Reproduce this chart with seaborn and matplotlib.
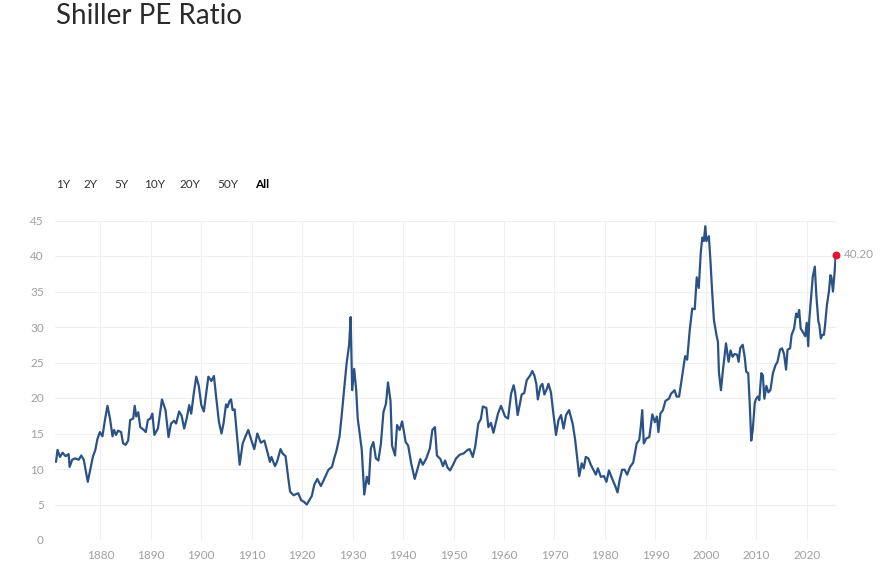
import matplotlib
matplotlib.use("Agg")
import matplotlib.pyplot as plt
import seaborn as sns
import pandas as pd

# Shiller CAPE (decimal year, ratio)
years = [
    1871.2, 1871.5, 1872.0, 1872.5, 1873.1, 1873.7, 1873.9, 1874.4, 1875.0, 1875.7,
    1876.2, 1876.7, 1877.5, 1878.1, 1878.5, 1879.0, 1879.4, 1879.9, 1880.4, 1880.9,
    1881.4, 1881.9, 1882.4, 1882.7, 1883.1, 1883.5, 1884.1, 1884.5, 1885.0, 1885.5,
    1885.9, 1886.5, 1886.8, 1887.1, 1887.5, 1887.9, 1888.6, 1889.0, 1889.4, 1889.9,
    1890.3, 1890.7, 1891.4, 1892.2, 1892.9, 1893.5, 1894.0, 1894.6, 1895.0, 1895.6,
    1896.1, 1896.6, 1897.1, 1897.6, 1898.0, 1898.5, 1899.0, 1899.5, 1900.0, 1900.5,
    1901.0, 1901.4, 1902.0, 1902.5, 1902.9, 1903.5, 1904.0, 1904.4, 1904.9, 1905.2,
    1905.6, 1905.9, 1906.2, 1906.6, 1907.1, 1907.6, 1908.2, 1908.7, 1909.3, 1909.9,
    1910.5, 1911.1, 1911.8, 1912.5, 1913.1, 1913.6, 1913.9, 1914.6, 1915.0, 1915.7,
    1916.1, 1916.7, 1917.2, 1917.6, 1918.3, 1919.2, 1919.8, 1920.3, 1920.9, 1921.4,
    1921.9, 1922.4, 1923.0, 1923.7, 1924.3, 1925.2, 1925.9, 1926.3, 1926.8, 1927.4,
    1927.8, 1928.4, 1928.8, 1929.3, 1929.6, 1929.9, 1930.3, 1930.7, 1931.0, 1931.3,
    1931.8, 1932.3, 1932.8, 1933.2, 1933.6, 1934.1, 1934.6, 1935.1, 1935.6, 1936.1,
    1936.6, 1937.0, 1937.5, 1937.8, 1938.4, 1938.8, 1939.3, 1939.8, 1940.2, 1940.5,
    1941.0, 1941.6, 1942.3, 1942.9, 1943.4, 1943.9, 1944.6, 1945.3, 1945.8, 1946.3,
    1946.7, 1947.4, 1947.9, 1948.3, 1948.8, 1949.3, 1949.9, 1950.5, 1951.2, 1952.0,
    1952.8, 1953.2, 1953.8, 1954.3, 1954.9, 1955.4, 1955.8, 1956.5, 1956.9, 1957.4,
    1957.9, 1958.8, 1959.4, 1960.2, 1960.8, 1961.4, 1961.9, 1962.2, 1962.7, 1963.1,
    1963.5, 1964.0, 1964.5, 1965.2, 1965.6, 1966.0, 1966.4, 1966.7, 1967.2, 1967.6,
    1968.0, 1968.5, 1968.8, 1969.3, 1969.7, 1970.3, 1970.8, 1971.3, 1971.8, 1972.3,
    1972.9, 1973.6, 1974.1, 1974.5, 1974.9, 1975.4, 1975.8, 1976.2, 1976.7, 1977.2,
    1977.7, 1978.2, 1978.6, 1979.2, 1979.8, 1980.3, 1980.8, 1981.4, 1982.1, 1982.5,
    1982.9, 1983.4, 1983.9, 1984.4, 1985.0, 1985.6, 1986.3, 1986.8, 1987.1, 1987.4,
    1987.7, 1988.2, 1988.8, 1989.4, 1989.9, 1990.3, 1990.6, 1991.0, 1991.5, 1992.0,
    1992.7, 1993.1, 1993.8, 1994.2, 1994.7, 1995.3, 1995.9, 1996.3, 1996.8, 1997.3,
    1997.8, 1998.2, 1998.6, 1999.0, 1999.3, 1999.6, 1999.9, 2000.1, 2000.6, 2000.9,
    2001.25, 2001.6, 2002.1, 2002.4, 2002.6, 2003.0, 2003.4, 2004.0, 2004.5, 2004.9,
    2005.3, 2005.7, 2006.2, 2006.5, 2006.8, 2007.3, 2007.7, 2008.0, 2008.4, 2008.7,
    2009.0, 2009.3, 2009.7, 2009.9, 2010.3, 2010.6, 2011.0, 2011.3, 2011.6, 2012.0,
    2012.4, 2012.8, 2013.3, 2013.8, 2014.2, 2014.7, 2015.1, 2015.5, 2015.9, 2016.2,
    2016.7, 2017.0, 2017.5, 2017.9, 2018.2, 2018.5, 2018.8, 2019.2, 2019.7, 2020.0,
    2020.3, 2020.5, 2020.9, 2021.2, 2021.6, 2021.9, 2022.3, 2022.5, 2022.8, 2023.1,
    2023.4, 2023.6, 2024.0, 2024.4, 2024.7, 2024.9, 2025.2, 2025.5, 2025.75,
]
cape = [
    11.0, 12.7, 11.7, 12.3, 11.8, 12.1, 10.3, 11.3, 11.5, 11.3,
    11.9, 11.3, 8.2, 10.3, 11.7, 12.7, 14.2, 15.2, 14.6, 16.9,
    18.9, 17.1, 14.6, 15.5, 14.8, 15.4, 15.2, 13.6, 13.4, 14.0,
    16.9, 17.1, 18.9, 17.4, 18.0, 15.9, 15.5, 15.2, 16.9, 17.1,
    17.8, 14.8, 15.7, 19.8, 18.3, 14.5, 16.4, 16.8, 16.4, 18.1,
    17.5, 15.7, 17.1, 19.0, 17.8, 20.6, 23.0, 21.7, 19.0, 18.1,
    20.8, 23.0, 22.4, 23.1, 20.4, 16.6, 15.0, 16.4, 19.1, 18.7,
    19.6, 19.8, 18.3, 18.4, 14.5, 10.6, 13.6, 14.5, 15.5, 14.1,
    12.8, 15.0, 13.7, 14.0, 12.4, 11.0, 11.7, 10.4, 11.0, 12.8,
    12.2, 11.8, 8.9, 6.8, 6.3, 6.6, 5.6, 5.4, 5.0, 5.6,
    6.2, 7.8, 8.6, 7.6, 8.5, 9.9, 10.3, 11.4, 12.6, 14.6,
    17.4, 22.0, 24.9, 27.5, 31.4, 21.1, 24.1, 21.1, 17.1, 15.5,
    12.7, 6.4, 8.9, 7.9, 12.9, 13.8, 11.5, 11.2, 13.6, 18.0,
    19.2, 22.2, 19.6, 13.3, 11.9, 16.2, 15.5, 16.7, 15.1, 13.8,
    13.3, 10.8, 8.6, 10.1, 11.4, 10.6, 11.5, 12.9, 15.5, 15.9,
    11.9, 11.4, 10.4, 11.2, 10.2, 9.8, 10.6, 11.5, 12.0, 12.2,
    12.7, 12.8, 11.7, 13.2, 16.4, 17.0, 18.8, 18.6, 15.9, 16.5,
    15.1, 17.8, 18.9, 17.4, 17.1, 20.6, 21.8, 20.8, 17.6, 19.0,
    20.5, 20.7, 22.5, 23.2, 23.8, 23.2, 22.0, 19.8, 21.6, 22.0,
    20.5, 21.3, 22.0, 20.8, 18.3, 14.8, 16.9, 17.6, 15.7, 17.6,
    18.3, 16.4, 14.1, 11.5, 9.0, 10.8, 10.1, 11.7, 11.5, 10.6,
    9.9, 9.2, 10.1, 8.9, 9.0, 8.2, 9.8, 8.7, 7.5, 6.7,
    8.4, 9.9, 9.9, 9.2, 10.3, 10.9, 13.6, 14.1, 15.9, 18.3,
    13.6, 14.3, 14.5, 17.7, 16.6, 17.4, 15.2, 17.8, 18.3, 19.6,
    19.9, 20.6, 21.1, 20.2, 20.2, 23.0, 25.9, 25.4, 29.5, 32.6,
    32.5, 37.0, 35.5, 40.5, 42.6, 42.1, 44.2, 42.1, 42.8, 39.5,
    35.0, 31.0, 28.9, 27.9, 23.6, 21.1, 24.0, 27.7, 25.1, 26.7,
    25.8, 26.2, 26.1, 25.1, 27.0, 27.5, 25.8, 23.7, 23.5, 19.2,
    14.0, 15.5, 19.3, 19.8, 20.2, 19.7, 23.5, 23.2, 19.9, 21.7,
    20.8, 21.1, 23.5, 24.6, 25.1, 26.8, 27.0, 26.2, 24.0, 26.8,
    27.0, 28.9, 29.8, 31.9, 31.4, 32.4, 29.8, 29.3, 28.7, 30.6,
    27.3, 31.0, 34.5, 37.1, 38.5, 34.5, 30.8, 30.3, 28.4, 28.9,
    28.9, 30.0, 33.1, 35.0, 37.3, 37.0, 35.0, 37.5, 40.2,
]
decades = [1880, 1890, 1900, 1910, 1920, 1930, 1940, 1950, 1960, 1970, 1980, 1990, 2000, 2010, 2020]
y_ticks = [0, 5, 10, 15, 20, 25, 30, 35, 40, 45]
ranges = ["1Y", "2Y", "5Y", "10Y", "20Y", "50Y", "All"]
last_label = "40.20"

df = pd.DataFrame({"year": years, "cape": cape})

sns.set_style("white")
plt.rcParams['font.family'] = ['Lato', 'DejaVu Sans']

W, H = 885, 569
fig = plt.figure(figsize=(W / 100, H / 100), dpi=100)
ax = fig.add_axes([55 / W, 1 - 540 / H, (836 - 55) / W, (540 - 220.5) / H])

sns.lineplot(data=df, x="year", y="cape", ax=ax, color="#2b5286", linewidth=1.6,
             estimator=None, sort=False)
last = df.iloc[-1]
ax.scatter([last["year"]], [last["cape"]], color="#e8102e", s=22, zorder=5, clip_on=False)
ax.annotate(last_label, (last["year"], last["cape"]), xytext=(6, 0), textcoords="offset points",
            va="center", ha="left", fontsize=8.5, color="#a0a0a0", annotation_clip=False)

ax.set_xlim(1871.0, 2025.8)
ax.set_ylim(0, 45)
ax.set_xticks(decades)
ax.set_yticks(y_ticks)
ax.grid(True, color="#efefef", linewidth=0.8)
ax.set_axisbelow(True)
for s in ax.spines.values():
    s.set_visible(False)
ax.tick_params(axis="both", length=0, labelsize=8.5, labelcolor="#a0a0a0")
ax.tick_params(axis="y", pad=8)
ax.tick_params(axis="x", pad=7)
ax.set_xlabel("")
ax.set_ylabel("")

fig.text(56 / W, 1 - 16 / H, "Shiller PE Ratio", fontsize=20, fontweight="normal",
         color="#2a2a2a", va="center", ha="left")

btn_x = [56, 84, 114, 144, 180, 217, 255]
for label, bx in zip(ranges, btn_x):
    bold = label == "All"
    fig.text(bx / W, 1 - 184 / H, label, fontsize=8.5, va="center", ha="left",
             color="#000000" if bold else "#333333",
             fontweight="bold" if bold else "normal")

plt.savefig("out.png", dpi=100)
